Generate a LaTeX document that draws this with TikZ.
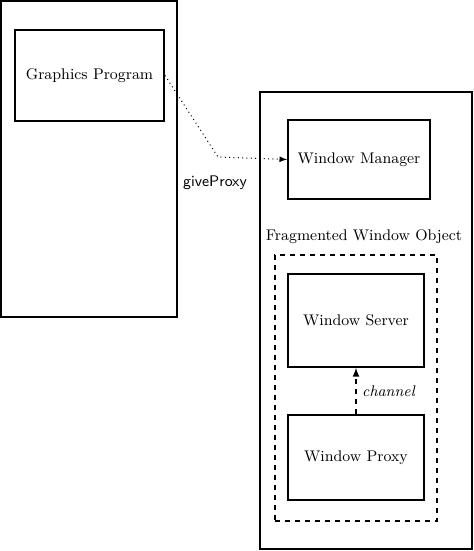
\documentclass[tikz,border=0pt]{standalone}
\usepackage{tikz}
\usetikzlibrary{arrows,positioning}

\begin{document}
\begin{tikzpicture}[x=0.6pt, y=-0.6pt, every node/.style={font=\fontsize{9.25pt}{11pt}\selectfont}]
				\useasboundingbox (0,0) rectangle (474,551);
				\node[rectangle, draw, line width=1.2pt, minimum width=105.6pt, minimum height=189.6pt] (host) at (89,159) {};
				\node[rectangle, draw, line width=1.2pt, minimum width=89.4pt, minimum height=54.6pt] (gp) at (89.5,75.5) {Graphics Program};
				\node[rectangle, draw, line width=1.2pt, minimum width=127.2pt, minimum height=274.2pt] (server) at (366,320.5) {};
				\node[rectangle, draw, line width=1pt, minimum width=85.2pt, minimum height=47.4pt] (wm) at (359,159.5) {Window Manager};
				\node (fwo) at (364,237) {Fragmented Window Object};
				\node[rectangle, draw, dashed, line width=1.2pt, minimum width=97.2pt, minimum height=159.6pt] (frag) at (356,388) {};
				\node[rectangle, draw, line width=1pt, minimum width=81.6pt, minimum height=55.8pt] (ws) at (356,320.5) {Window Server};
				\node[rectangle, draw, line width=1pt, minimum width=81.6pt, minimum height=51pt] (wp) at (356,457.5) {Window Proxy};
				\coordinate (bend) at (218,157);
				\node[font=\sffamily\fontsize{9.25pt}{11pt}\selectfont] (give) at (215,183) {giveProxy};
				
				\draw[dotted, semithick, -latex] (gp.east) -- (bend) -- (wm.west);
				\draw[dashed, thick, -latex] (wp.north) -- node[right] {\itshape channel} (ws.south);
				\end{tikzpicture}
\end{document}
